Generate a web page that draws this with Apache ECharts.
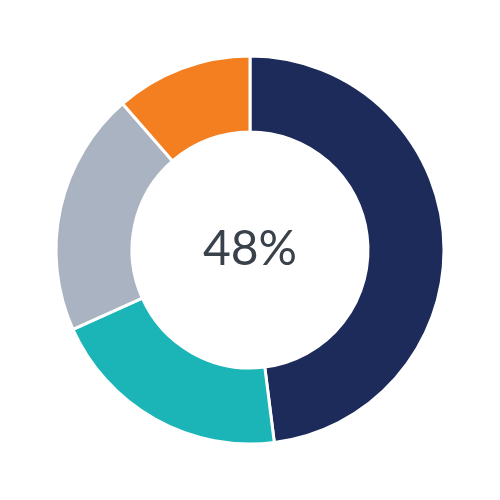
<!DOCTYPE html>
<html lang="en">
<head>
    <meta charset="UTF-8">
    <title>Donut</title>
    <style>
        html, body { margin: 0; padding: 0; background: #fff; }
    </style>
</head>
<body>
<div id="demo" style="width: 500px;height: 500px;"></div>
<script src="https://cdn.jsdelivr.net/npm/echarts@6/dist/echarts.min.js"></script>
<script>
    /*segments, clockwise from 12 o'clock*/
    var names = ['A', 'B', 'C', 'D'];
    var values = [48, 20.3, 20.3, 11.4];
    var colors = ['#1c2b5a', '#1bb5b8', '#a9b3c1', '#f37f21'];
    var centerLabel = '48%';

    var chart = echarts.init(document.getElementById('demo'));
    var option = {
        animation: false,
        title: {
            text: centerLabel,
            left: 'center',
            top: 'middle',
            textStyle: {
                color: '#39414b',
                fontFamily: 'Lato',
                fontWeight: 'normal',
                fontSize: 48
            }
        },
        series: [
            {
                type: 'pie',
                center: ['50%', '50%'],
                radius: [118, 194],
                startAngle: 90,
                clockwise: true,
                silent: true,
                label: { show: false },
                labelLine: { show: false },
                itemStyle: {
                    borderColor: '#fff',
                    borderWidth: 3
                },
                data: values.map(function (v, i) {
                    return { name: names[i], value: v, itemStyle: { color: colors[i] } };
                })
            }
        ]
    };
    chart.setOption(option);
</script>
</body>
</html>
